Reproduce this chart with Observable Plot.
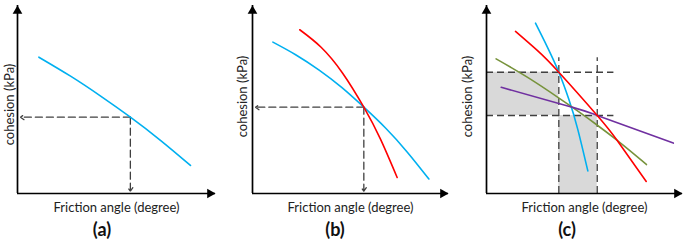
<!DOCTYPE html>
<html>
<head>
<meta charset="utf-8">
<script src="https://cdn.jsdelivr.net/npm/d3@7"></script>
<script src="https://cdn.jsdelivr.net/npm/@observablehq/plot@0.6"></script>
<style>
  html, body { margin: 0; padding: 0; background: #fff; }
  #wrap { position: relative; width: 685px; height: 243px; overflow: hidden; font-family: Lato, "Open Sans", sans-serif; }
  .panel { position: absolute; top: 0; }
  .panel svg { display: block; }
  .cap { position: absolute; top: 218px; height: 25px; line-height: 22px; font-weight: bold; font-size: 18px; text-align: center; width: 40px; color: #111; }
</style>
</head>
<body>
<div id="wrap"></div>
<script>
// ---- data (schematic units: friction angle 0..10, cohesion 0..10) ----
const axisLabelX = "Friction angle (degree)";
const axisLabelY = "cohesion (kPa)";
const panelTags = ["(a)", "(b)", "(c)"];

// panel (a)
const aBlueAngle    = [1.08, 2.68, 4.20, 5.70, 7.22, 8.74];
const aBlueCohesion = [7.25, 6.24, 5.18, 4.06, 2.83, 1.49];
const aPickAngle = 5.70, aPickCohesion = 4.06;

// panel (b)
const bBlueAngle    = [1.04, 2.20, 3.40, 4.55, 5.68, 6.80, 7.90, 9.00];
const bBlueCohesion = [8.05, 7.38, 6.56, 5.64, 4.59, 3.47, 2.20, 0.77];
const bRedAngle     = [2.41, 3.50, 4.60, 5.68, 6.53, 7.38];
const bRedCohesion  = [8.71, 7.78, 6.40, 4.59, 2.89, 0.85];
const bPickAngle = 5.68, bPickCohesion = 4.59;

// panel (c)
const cBlueAngle      = [2.50, 3.10, 3.69, 4.20, 4.65, 5.17];
const cBlueCohesion   = [9.06, 7.80, 6.45, 5.01, 3.44, 1.20];
const cRedAngle       = [1.48, 2.59, 3.69, 5.65, 6.67, 8.15];
const cRedCohesion    = [8.62, 7.61, 6.45, 4.15, 2.82, 0.64];
const cGreenAngle     = [0.49, 2.40, 4.37, 5.50, 6.67, 8.16];
const cGreenCohesion  = [7.16, 5.98, 4.59, 3.75, 2.82, 1.54];
const cPurpleAngle    = [0.75, 4.37, 5.65, 9.53];
const cPurpleCohesion = [5.65, 4.59, 4.15, 2.68];
const cAngleRange    = [3.69, 5.65];
const cCohesionRange = [4.15, 6.45];
const cGuideTop = 7.22, cGuideRight = 6.5;

// ---- styles ----
const BLUE = "#00B0F0", RED = "#FF0000", GREEN = "#77933C", PURPLE = "#7030A0";
const DASH = "#404040";
const FONT = "Lato, 'Open Sans', sans-serif";

const zip = (xs, ys) => xs.map((x, i) => ({angle: x, coh: ys[i]}));

function axesMarks() {
  return [
    Plot.ruleY([0], {x1: () => 0, x2: () => 10, stroke: "#000", strokeWidth: 1.7}),
    Plot.ruleX([0], {y1: () => 0, y2: () => 10, stroke: "#000", strokeWidth: 1.7}),
    Plot.dot([{angle: 10, coh: 0}], {x: "angle", y: "coh", symbol: "triangle", r: 3.6, fill: "#000", stroke: "none", rotate: 90, dx: -5.5}),
    Plot.dot([{angle: 0, coh: 10}], {x: "angle", y: "coh", symbol: "triangle", r: 3.6, fill: "#000", stroke: "none", dy: 5.5}),
  ];
}

function labelMarks(dxY, dyY) {
  return [
    Plot.text([axisLabelX], {frameAnchor: "bottom", textAnchor: "middle", dy: 18, fontSize: 13, fill: "#222", fontFamily: FONT}),
    Plot.text([axisLabelY], {frameAnchor: "left", textAnchor: "middle", dx: dxY, dy: dyY, rotate: -90, fontSize: 13, fill: "#222", fontFamily: FONT}),
  ];
}

function curve(xs, ys, color) {
  return Plot.line(zip(xs, ys), {x: "angle", y: "coh", stroke: color, strokeWidth: 1.6, curve: "natural"});
}

function pickArrows(pa, pc) {
  const d = [{angle: pa, coh: pc}];
  return [
    Plot.arrow(d, {x1: "angle", y1: "coh", x2: () => 0.15, y2: "coh", stroke: DASH, strokeWidth: 1.3, strokeDasharray: "7,4", headLength: 5, headAngle: 70}),
    Plot.arrow(d, {x1: "angle", y1: "coh", x2: "angle", y2: () => 0.12, stroke: DASH, strokeWidth: 1.3, strokeDasharray: "7,4", headLength: 5, headAngle: 70}),
  ];
}

function makePlot(width, mLeft, mRight, marks) {
  return Plot.plot({
    width, height: 218,
    marginLeft: mLeft, marginRight: mRight, marginTop: 5, marginBottom: 25,
    x: {domain: [0, 10], axis: null},
    y: {domain: [0, 10], axis: null},
    style: {fontFamily: FONT, background: "transparent"},
    marks
  });
}

const plotA = makePlot(230, 17, 15, [
  ...pickArrows(aPickAngle, aPickCohesion),
  curve(aBlueAngle, aBlueCohesion, BLUE),
  ...axesMarks(),
  ...labelMarks(-8, 5)
]);

const plotB = makePlot(230, 17, 17, [
  ...pickArrows(bPickAngle, bPickCohesion),
  curve(bBlueAngle, bBlueCohesion, BLUE),
  curve(bRedAngle, bRedCohesion, RED),
  ...axesMarks(),
  ...labelMarks(-9.5, -3)
]);

const grayBands = [
  {x1: 0, x2: cAngleRange[0], y1: cCohesionRange[0], y2: cCohesionRange[1]},
  {x1: cAngleRange[0], x2: cAngleRange[1], y1: 0, y2: cCohesionRange[0]}
];

const plotC = makePlot(230, 31, 3, [
  Plot.rect(grayBands, {x1: "x1", x2: "x2", y1: "y1", y2: "y2", fill: "#d9d9d9"}),
  Plot.ruleX(cAngleRange, {x: d => d, y1: () => 0, y2: () => cGuideTop, stroke: DASH, strokeWidth: 1.3, strokeDasharray: "7,4"}),
  Plot.ruleY(cCohesionRange, {y: d => d, x1: () => 0, x2: () => cGuideRight, stroke: DASH, strokeWidth: 1.3, strokeDasharray: "7,4"}),
  curve(cBlueAngle, cBlueCohesion, BLUE),
  curve(cGreenAngle, cGreenCohesion, GREEN),
  curve(cPurpleAngle, cPurpleCohesion, PURPLE),
  curve(cRedAngle, cRedCohesion, RED),
  ...axesMarks(),
  ...labelMarks(-18.5, -3)
]);

const wrap = document.getElementById("wrap");
const panels = [[plotA, 0, 102], [plotB, 235, 335], [plotC, 455, 567]];
panels.forEach(([svg, left, capX], i) => {
  const div = document.createElement("div");
  div.className = "panel";
  div.style.left = left + "px";
  div.appendChild(svg);
  wrap.appendChild(div);
  const cap = document.createElement("div");
  cap.className = "cap";
  cap.style.left = (capX - 20) + "px";
  cap.textContent = panelTags[i];
  wrap.appendChild(cap);
});
</script>
</body>
</html>
